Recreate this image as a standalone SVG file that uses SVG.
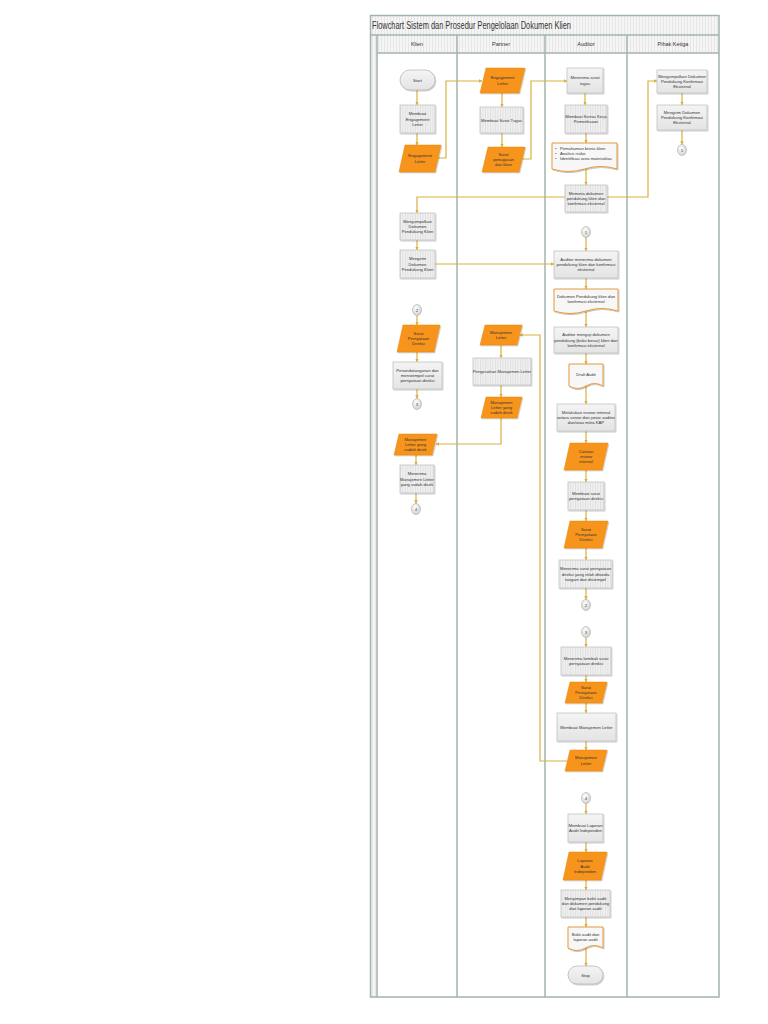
<svg xmlns="http://www.w3.org/2000/svg" width="768" height="1024" viewBox="0 0 768 1024">
<defs>
<pattern id="hatch" width="2.5" height="10" patternUnits="userSpaceOnUse"><rect width="2.5" height="10" fill="#f0f0f0"/><line x1="0.5" y1="0" x2="0.5" y2="10" stroke="#cfcfcf" stroke-width="0.5"/></pattern>
<pattern id="hh" width="3" height="10" patternUnits="userSpaceOnUse"><rect width="3" height="10" fill="#f5f5f5"/><line x1="0.5" y1="0" x2="0.5" y2="10" stroke="#dcdcdc" stroke-width="0.6"/></pattern>
<linearGradient id="gp" x1="0" y1="0" x2="0" y2="1"><stop offset="0" stop-color="#f4f4f4"/><stop offset="1" stop-color="#e4e4e4"/></linearGradient>
<radialGradient id="gc" cx="0.4" cy="0.35" r="0.7"><stop offset="0" stop-color="#ffffff"/><stop offset="1" stop-color="#cfcfcf"/></radialGradient>
<filter id="ds" x="-20%" y="-20%" width="140%" height="140%"><feDropShadow dx="0.8" dy="1" stdDeviation="0.6" flood-color="#000" flood-opacity="0.25"/></filter>
<marker id="ah" viewBox="0 0 6 6" refX="5.5" refY="3" markerWidth="3" markerHeight="3" orient="auto"><path d="M0,0 L6,3 L0,6 z" fill="#d8b13f"/></marker>
<style>
.fr{fill:none;stroke:#a3b3ae;stroke-width:1.5}
.p{fill:url(#gp);stroke:#c4c4c4;stroke-width:0.8;filter:url(#ds)}
.ph{fill:url(#hatch);stroke:#c4c4c4;stroke-width:0.8;filter:url(#ds)}
.d{fill:#f7941d;stroke:#e8870f;stroke-width:0.5;filter:url(#ds)}
.doc{fill:#f7f7f7;stroke:#e6993a;stroke-width:1;filter:url(#ds)}
.term{fill:url(#gp);stroke:#b9b9b9;stroke-width:0.8;filter:url(#ds)}
.cn{fill:url(#gc);stroke:#a9a9a9;stroke-width:0.6}
.t{font-family:'Liberation Sans',Arial,sans-serif;font-size:4.2px;fill:#333;text-anchor:middle}
.tl{font-family:'Liberation Sans',Arial,sans-serif;font-size:4.2px;fill:#333}
.h{font-family:'Liberation Sans',Arial,sans-serif;font-size:5.5px;fill:#333;text-anchor:middle}
.c{stroke:#d8b13f;stroke-width:1.2;fill:none;marker-end:url(#ah)}
</style>
</defs>
<rect width="768" height="1024" fill="#ffffff"/>
<g id="frame">
<rect x="370.5" y="15.5" width="348.5" height="981.5" fill="#ffffff"/>
<rect x="370.5" y="15.5" width="348.5" height="19.5" fill="url(#hh)"/>
<rect x="377" y="35" width="342" height="18" fill="url(#hh)"/>
<rect x="370.5" y="35" width="6.5" height="962" fill="url(#hh)"/>
<rect x="370.5" y="15.5" width="348.5" height="981.5" class="fr"/>
<line x1="370.5" y1="35" x2="719" y2="35" class="fr"/>
<line x1="377" y1="53" x2="719" y2="53" class="fr"/>
<line x1="377" y1="35" x2="377" y2="997" class="fr"/>
<line x1="457" y1="35" x2="457" y2="997" class="fr"/>
<line x1="545" y1="35" x2="545" y2="997" class="fr"/>
<line x1="627" y1="35" x2="627" y2="997" class="fr"/>
<text x="372" y="29" font-family="'Liberation Sans',Arial,sans-serif" font-size="10.5" fill="#333" textLength="199" lengthAdjust="spacingAndGlyphs">Flowchart Sistem dan Prosedur Pengelolaan Dokumen Klien</text>
<text x="417" y="46" class="h">Klien</text>
<text x="501" y="46" class="h">Partner</text>
<text x="586" y="46" class="h">Auditor</text>
<text x="673" y="46" class="h">Pihak Ketiga</text>
</g>
<g id="connectors">
<path class="c" d="M417,90 V105"/>
<path class="c" d="M417,133 V145"/>
<path class="c" d="M438,158 H446 V81 H482"/>
<path class="c" d="M502,93 V107"/>
<path class="c" d="M502,133 V147"/>
<path class="c" d="M522,159 H531 V81 H567"/>
<path class="c" d="M585,93 V105"/>
<path class="c" d="M586,133 V143"/>
<path class="c" d="M586,169 V185"/>
<path class="c" d="M565,197 H417 V213"/>
<path class="c" d="M607,197 H648 V81 H657"/>
<path class="c" d="M682,93 V105"/>
<path class="c" d="M682,130 V144.5"/>
<path class="c" d="M417,240 V250"/>
<path class="c" d="M435,264 H554"/>
<path class="c" d="M586,237.5 V251"/>
<path class="c" d="M586,278 V289"/>
<path class="c" d="M586,311 V327"/>
<path class="c" d="M586,353 V364"/>
<path class="c" d="M586,386 V404"/>
<path class="c" d="M586,431 V443"/>
<path class="c" d="M586,470 V482"/>
<path class="c" d="M586,510 V521"/>
<path class="c" d="M586,548 V560"/>
<path class="c" d="M586,588 V599.5"/>
<path class="c" d="M586,637.5 V647"/>
<path class="c" d="M586,675 V682"/>
<path class="c" d="M586,703 V713"/>
<path class="c" d="M586,741 V750"/>
<path class="c" d="M567,761 H540 V335 H520"/>
<path class="c" d="M586,803.5 V814"/>
<path class="c" d="M586,842 V852"/>
<path class="c" d="M586,880 V890"/>
<path class="c" d="M586,917 V927"/>
<path class="c" d="M586,948 V966"/>
<path class="c" d="M417,315.5 V325"/>
<path class="c" d="M417,352 V362"/>
<path class="c" d="M417,389 V398.5"/>
<path class="c" d="M501,345 V358"/>
<path class="c" d="M501,385 V397"/>
<path class="c" d="M501,418 V444 H436"/>
<path class="c" d="M416,455 V465"/>
<path class="c" d="M416,493 V503.5"/>
</g>
<g id="k-start"><rect x="400" y="70" width="35" height="20" rx="10" class="term"/><text class="t" x="417.5" y="81.5">Start</text></g>
<g id="k-membuat-el"><rect x="400" y="105" width="35" height="28" class="ph"/><text class="t" x="417.5" y="115.3">Membuat<tspan x="417.5" dy="5.2">Engagement</tspan><tspan x="417.5" dy="5.2">Letter</tspan></text></g>
<g id="k-el"><polygon points="405,145 441,145 435,172 399,172" class="d"/><text class="t" x="420" y="157.4">Engagement<tspan x="420" dy="5.2">Letter</tspan></text></g>
<g id="k-mengumpulkan"><rect x="400" y="213" width="35" height="27" class="ph"/><text class="t" x="417.5" y="222.8">Mengumpulkan<tspan x="417.5" dy="5.2">Dokumen</tspan><tspan x="417.5" dy="5.2">Pendukung Klien</tspan></text></g>
<g id="k-mengirim"><rect x="400" y="250" width="35" height="28" class="ph"/><text class="t" x="417.5" y="260.3">Mengirim<tspan x="417.5" dy="5.2">Dokumen</tspan><tspan x="417.5" dy="5.2">Pendukung Klien</tspan></text></g>
<g id="k-c2"><ellipse cx="417" cy="310" rx="4.5" ry="5.5" class="cn"/><text class="t" x="417" y="311.5">2</text></g>
<g id="k-surat"><polygon points="403,325 440,325 434,352 397,352" class="d"/><text class="t" x="418.5" y="334.8">Surat<tspan x="418.5" dy="5.2">Pernyataan</tspan><tspan x="418.5" dy="5.2">Direksi</tspan></text></g>
<g id="k-penandatanganan"><rect x="393" y="362" width="49" height="27" class="p"/><text class="t" x="417.5" y="371.8">Penandatanganan dan<tspan x="417.5" dy="5.2">menstempel surat</tspan><tspan x="417.5" dy="5.2">pernyataan direksi</tspan></text></g>
<g id="k-c3"><ellipse cx="417" cy="404" rx="4.5" ry="5.5" class="cn"/><text class="t" x="417" y="405.5">3</text></g>
<g id="k-ml-dicek"><polygon points="399,434 437,434 432,455 394,455" class="d"/><text class="t" x="415.5" y="440.8">Manajemen<tspan x="415.5" dy="5.2">Letter yang</tspan><tspan x="415.5" dy="5.2">sudah dicek</tspan></text></g>
<g id="k-menerima-ml"><rect x="400" y="465" width="34" height="28" class="ph"/><text class="t" x="417" y="475.3">Menerima<tspan x="417" dy="5.2">Manajemen Letter</tspan><tspan x="417" dy="5.2">yang sudah dicek</tspan></text></g>
<g id="k-c4"><ellipse cx="416" cy="509" rx="4.5" ry="5.5" class="cn"/><text class="t" x="416" y="510.5">4</text></g>
<g id="p-el"><polygon points="486,68 525,68 519,93 480,93" class="d"/><text class="t" x="502.5" y="79.4">Engagement<tspan x="502.5" dy="5.2">Letter</tspan></text></g>
<g id="p-surat-tugas"><rect x="480" y="107" width="43" height="26" class="ph"/><text class="t" x="501.5" y="121.5">Membuat Surat Tugas</text></g>
<g id="p-surat-penugasan"><polygon points="488,147 525,147 519,172 482,172" class="d"/><text class="t" x="503.5" y="155.8">Surat<tspan x="503.5" dy="5.2">penugasan</tspan><tspan x="503.5" dy="5.2">dari klien</tspan></text></g>
<g id="p-ml"><polygon points="485,325 522,325 517,345 480,345" class="d"/><text class="t" x="501" y="333.9">Manajemen<tspan x="501" dy="5.2">Letter</tspan></text></g>
<g id="p-pengesahan"><rect x="473" y="358" width="58" height="27" class="ph"/><text class="t" x="502" y="373">Pengesahan Manajemen Letter</text></g>
<g id="p-ml-dicek"><polygon points="486,397 522,397 517,418 481,418" class="d"/><text class="t" x="501.5" y="403.8">Manajemen<tspan x="501.5" dy="5.2">Letter yang</tspan><tspan x="501.5" dy="5.2">sudah dicek</tspan></text></g>
<g id="a-menerima-tugas"><rect x="567" y="68" width="36" height="25" class="p"/><text class="t" x="585" y="79.4">Menerima surat<tspan x="585" dy="5.2">tugas</tspan></text></g>
<g id="a-kertas-kerja"><rect x="565" y="105" width="42" height="28" class="ph"/><text class="t" x="586" y="117.9">Membuat Kertas Kerja<tspan x="586" dy="5.2">Pemeriksaan</tspan></text></g>
<g id="a-doc-pemahaman"><path d="M552,143 H617 V169 Q600.75,164 584.5,169 T552,169 Z" class="doc"/><text class="tl" x="555" y="150">•<tspan x="560">Pemahaman bisnis klien</tspan><tspan x="555" dy="5">•</tspan><tspan x="560">Analisis risiko</tspan><tspan x="555" dy="5">•</tspan><tspan x="560">Identifikasi area materialitas</tspan></text></g>
<g id="a-meminta"><rect x="565" y="185" width="42" height="27" class="ph"/><text class="t" x="586" y="194.8">Meminta dokumen<tspan x="586" dy="5.2">pendukung klien dan</tspan><tspan x="586" dy="5.2">konfirmasi eksternal</tspan></text></g>
<g id="a-c1"><ellipse cx="586" cy="232" rx="4.5" ry="5.5" class="cn"/><text class="t" x="586" y="233.5">1</text></g>
<g id="a-menerima-dok"><rect x="554" y="251" width="64" height="27" class="p"/><text class="t" x="586" y="260.8">Auditor menerima dokumen<tspan x="586" dy="5.2">pendukung klien dan konfirmasi</tspan><tspan x="586" dy="5.2">eksternal</tspan></text></g>
<g id="a-doc-pendukung"><path d="M554,289 H618 V311 Q602,306 586,311 T554,311 Z" class="doc"/><text class="t" x="586" y="298">Dokumen Pendukung klien dan<tspan x="586" dy="5.2">konfirmasi eksternal</tspan></text></g>
<g id="a-menguji"><rect x="554" y="327" width="64" height="26" class="p"/><text class="t" x="586" y="336.3">Auditor menguji dokumen<tspan x="586" dy="5.2">pendukung (buku besar) klien dan</tspan><tspan x="586" dy="5.2">konfirmasi eksternal</tspan></text></g>
<g id="a-draft"><path d="M569,364 H603 V386 Q594.5,381 586,386 T569,386 Z" class="doc"/><text class="t" x="586" y="376">Draft Audit</text></g>
<g id="a-review"><rect x="557" y="404" width="58" height="27" class="p"/><text class="t" x="586" y="413.8">Melakukan review internal<tspan x="586" dy="5.2">antara senior dan junior auditor</tspan><tspan x="586" dy="5.2">dan/atau mitra KAP</tspan></text></g>
<g id="a-catatan"><polygon points="570,443 608,443 602,470 564,470" class="d"/><text class="t" x="586" y="452.8">Catatan<tspan x="586" dy="5.2">review</tspan><tspan x="586" dy="5.2">internal</tspan></text></g>
<g id="a-membuat-surat"><rect x="568" y="482" width="36" height="28" class="ph"/><text class="t" x="586" y="494.9">Membuat surat<tspan x="586" dy="5.2">pernyataan direksi</tspan></text></g>
<g id="a-surat1"><polygon points="570,521 608,521 602,548 564,548" class="d"/><text class="t" x="586" y="530.8">Surat<tspan x="586" dy="5.2">Pernyataan</tspan><tspan x="586" dy="5.2">Direksi</tspan></text></g>
<g id="a-menerima-surat"><rect x="559" y="560" width="53" height="28" class="ph"/><text class="t" x="585.5" y="570.3">Menerima surat pernyataan<tspan x="585.5" dy="5.2">direksi yang telah ditanda</tspan><tspan x="585.5" dy="5.2">tangani dan distempel</tspan></text></g>
<g id="a-c2"><ellipse cx="586" cy="605" rx="4.5" ry="5.5" class="cn"/><text class="t" x="586" y="606.5">2</text></g>
<g id="a-c3"><ellipse cx="586" cy="632" rx="4.5" ry="5.5" class="cn"/><text class="t" x="586" y="633.5">3</text></g>
<g id="a-menerima-kembali"><rect x="561" y="647" width="50" height="28" class="ph"/><text class="t" x="586" y="659.9">Menerima kembali surat<tspan x="586" dy="5.2">pernyataan direksi</tspan></text></g>
<g id="a-surat2"><polygon points="570,682 607,682 602,703 565,703" class="d"/><text class="t" x="586" y="688.8">Surat<tspan x="586" dy="5.2">Pernyataan</tspan><tspan x="586" dy="5.2">Direksi</tspan></text></g>
<g id="a-membuat-ml"><rect x="557" y="713" width="59" height="28" class="p"/><text class="t" x="586.5" y="728.5">Membuat Manajemen Letter</text></g>
<g id="a-ml"><polygon points="570,750 607,750 602,771 565,771" class="d"/><text class="t" x="586" y="759.4">Manajemen<tspan x="586" dy="5.2">Letter</tspan></text></g>
<g id="a-c4"><ellipse cx="586" cy="798" rx="4.5" ry="5.5" class="cn"/><text class="t" x="586" y="799.5">4</text></g>
<g id="a-membuat-laporan"><rect x="568" y="814" width="35" height="28" class="p"/><text class="t" x="585.5" y="826.9">Membuat Laporan<tspan x="585.5" dy="5.2">Audit Independen</tspan></text></g>
<g id="a-laporan"><polygon points="569,852 607,852 601,880 563,880" class="d"/><text class="t" x="585" y="862.3">Laporan<tspan x="585" dy="5.2">Audit</tspan><tspan x="585" dy="5.2">Independen</tspan></text></g>
<g id="a-menyimpan"><rect x="561" y="890" width="49" height="27" class="ph"/><text class="t" x="585.5" y="899.8">Menyimpan bukti audit<tspan x="585.5" dy="5.2">dan dokumen pendukung</tspan><tspan x="585.5" dy="5.2">dan laporan audit</tspan></text></g>
<g id="a-bukti"><path d="M568,927 H603 V948 Q594.25,943 585.5,948 T568,948 Z" class="doc"/><text class="t" x="585.5" y="936">Bukti audit dan<tspan x="585.5" dy="5.2">laporan audit</tspan></text></g>
<g id="a-stop"><rect x="568" y="966" width="35" height="18" rx="9" class="term"/><text class="t" x="585.5" y="976.5">Stop</text></g>
<g id="pk-mengumpulkan"><rect x="657" y="70" width="50" height="23" class="p"/><text class="t" x="682" y="77.8">Mengumpulkan Dokumen<tspan x="682" dy="5.2">Pendukung Konfirmasi</tspan><tspan x="682" dy="5.2">Eksternal</tspan></text></g>
<g id="pk-mengirim"><rect x="657" y="105" width="50" height="25" class="p"/><text class="t" x="682" y="113.8">Mengirim Dokumen<tspan x="682" dy="5.2">Pendukung Konfirmasi</tspan><tspan x="682" dy="5.2">Eksternal</tspan></text></g>
<g id="pk-c1"><ellipse cx="682" cy="150" rx="4.5" ry="5.5" class="cn"/><text class="t" x="682" y="151.5">1</text></g>
</svg>
